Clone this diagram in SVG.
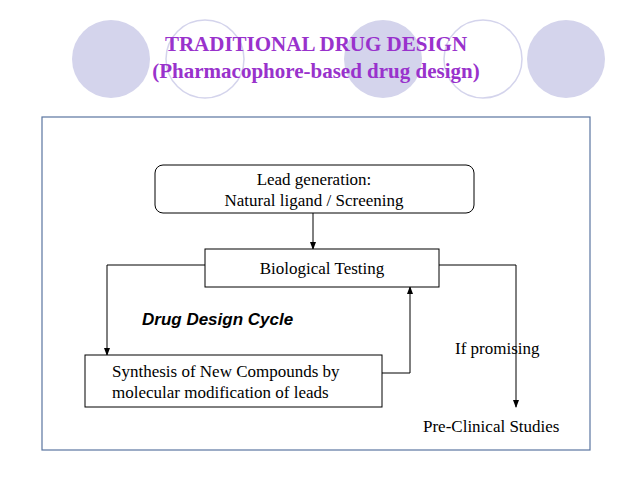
<svg xmlns="http://www.w3.org/2000/svg" width="638" height="478" viewBox="0 0 638 478">
<style>
.t{font-family:"Liberation Serif",serif;font-size:17px;fill:#000}
.h{font-family:"Liberation Serif",serif;font-size:21px;font-weight:bold;fill:#9932cc;text-anchor:middle}
.b{fill:#fff;stroke:#000;stroke-width:1}
.c{fill:none;stroke:#000;stroke-width:1}
.fc{fill:#d4d4ec}
.oc{fill:none;stroke:#d4d4ec;stroke-width:1.5}
</style>
<defs>
<marker id="ar" markerWidth="8" markerHeight="8" refX="7" refY="4" orient="auto" markerUnits="userSpaceOnUse"><path d="M0,1 L8,4 L0,7 Z" fill="#000"/></marker></defs>
<rect width="638" height="478" fill="#fff"/>
<g id="decor">
<circle class="fc" cx="111" cy="59" r="39"/>
<circle class="oc" cx="205" cy="59" r="39"/>
<circle class="fc" cx="383" cy="59" r="39"/>
<circle class="oc" cx="483" cy="59" r="39"/>
<circle class="fc" cx="566" cy="59" r="39"/>
</g>
<g id="title">
<text class="h" x="316" y="51">TRADITIONAL DRUG DESIGN</text>
<text class="h" x="316" y="78">(Pharmacophore-based drug design)</text>
</g>
<rect x="42" y="117" width="548" height="333" fill="none" stroke="#5a75a0" stroke-width="1.2"/>
<g id="connectors">
<path class="c" d="M313,213 V249" marker-end="url(#ar)"/>
<path class="c" d="M205,265 H107 V355" marker-end="url(#ar)"/>
<path class="c" d="M382,373 H410 V287" marker-end="url(#ar)"/>
<path class="c" d="M439,265 H516 V407" marker-end="url(#ar)"/>
</g>
<g id="lead"><rect class="b" x="155" y="165" width="319" height="48" rx="8"/>
<text class="t" x="314" y="185" text-anchor="middle">Lead generation:</text>
<text class="t" x="314" y="206" text-anchor="middle">Natural ligand / Screening</text></g>
<g id="bio"><rect class="b" x="205" y="249" width="234" height="38"/>
<text class="t" x="322" y="274" text-anchor="middle">Biological Testing</text></g>
<g id="synth"><rect class="b" x="85" y="355" width="297" height="52"/>
<text class="t" x="112" y="377">Synthesis of New Compounds by</text>
<text class="t" x="112" y="398">molecular modification of leads</text></g>
<g id="cycle"><text x="142" y="325" font-family="Liberation Sans,sans-serif" font-size="17" font-weight="bold" font-style="italic" fill="#000">Drug Design Cycle</text></g>
<g id="promising"><text class="t" x="455" y="354">If promising</text></g>
<g id="preclin"><text class="t" x="423" y="432">Pre-Clinical Studies</text></g>
</svg>
